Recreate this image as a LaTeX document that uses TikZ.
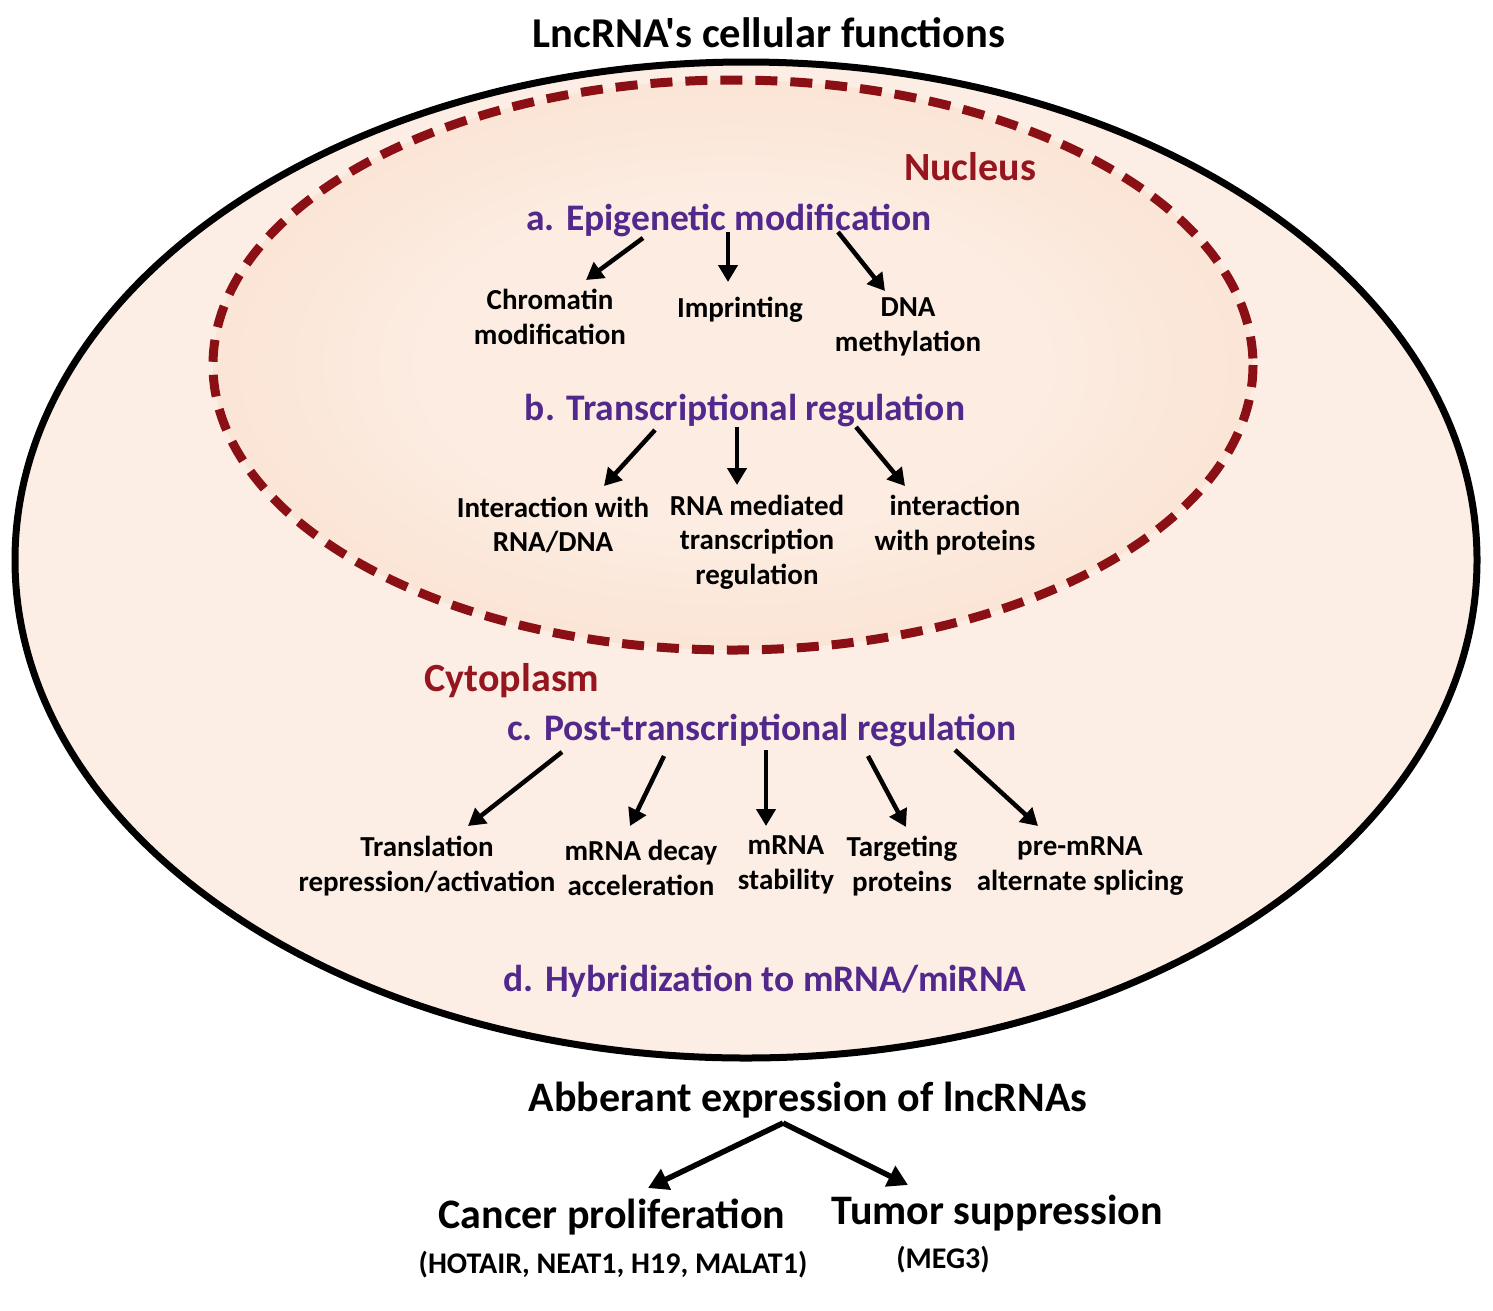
\documentclass[tikz,border=0pt]{standalone}
\usepackage{fontspec}
\setmainfont{Carlito}
\newfontfamily\carlplain{Carlito}
\usetikzlibrary{arrows.meta}
\definecolor{nucred}{RGB}{138,16,22}
\definecolor{labred}{RGB}{150,22,32}
\definecolor{purp}{RGB}{82,40,140}
\definecolor{cyto}{RGB}{252,238,228}
\definecolor{nucin}{RGB}{252,236,225}
\definecolor{nucout}{RGB}{247,210,185}
\pgfdeclareradialshading{nucsh}{\pgfpoint{0bp}{0bp}}{color(0bp)=(nucin); color(15bp)=(nucin); color(50bp)=(nucout); color(72bp)=(nucout)}
\begin{document}
\begin{tikzpicture}[x=1pt,y=-1pt,
  heading/.style={font=\bfseries\fontsize{37.5}{44}\selectfont, text=purp, inner sep=0pt},
  comp/.style={font=\bfseries\fontsize{40}{46}\selectfont, text=labred, inner sep=0pt},
  lab/.style={font=\bfseries\fontsize{29}{34.5}\selectfont, align=center, inner sep=0pt},
  big/.style={font=\bfseries\fontsize{42}{48}\selectfont, inner sep=0pt},
  small/.style={font=\bfseries\fontsize{30}{34}\selectfont, inner sep=0pt},
  arr/.style={line width=4.5pt, -{Triangle[length=17pt,width=19pt]}},
  barr/.style={line width=5.5pt, -{Triangle[length=20pt,width=22pt]}}]
\useasboundingbox (0,0) rectangle (1493,1310);
\fill[white] (0,0) rectangle (1493,1310);
% cell
\draw[line width=7pt, fill=cyto] (746,560) ellipse [x radius=731, y radius=498];
% nucleus
\shade[shading=nucsh] (733,365) ellipse [x radius=520, y radius=285];
\draw[nucred, line width=9pt, dash pattern=on 22pt off 13pt] (733,365) ellipse [x radius=520, y radius=285];

\node[big, font=\carlplain\bfseries\fontsize{42.5}{48}\selectfont] (title) at (769,33) {LncRNA's cellular functions};
\node[comp] (nuc) at (970,167) {Nucleus};
\node[comp] (cyt) at (512,681) {Cytoplasm};

% a
\node[heading] (epi) at (729,220) {a. Epigenetic modification};
\node[lab] (chrom) at (550,317) {Chromatin\\modification};
\node[lab] (impr) at (740,310) {Imprinting};
\node[lab] (dna) at (908,327) {DNA\\methylation};
\coordinate (a1s) at (643,238); \coordinate (a1e) at (586,280);
\coordinate (a2s) at (728,232); \coordinate (a2e) at (728,282);
\coordinate (a3s) at (838,232); \coordinate (a3e) at (885,291);
\draw[arr] (a1s) -- (a1e);
\draw[arr] (a2s) -- (a2e);
\draw[arr] (a3s) -- (a3e);

% b
\node[heading] (trans) at (745,410) {b. Transcriptional regulation};
\node[lab] (inter) at (553,525) {Interaction with\\RNA/DNA};
\node[lab] (rnamed) at (757,542) {RNA mediated\\transcription\\regulation};
\node[lab] (prot) at (955,525) {interaction\\with proteins};
\coordinate (b1s) at (655,430); \coordinate (b1e) at (604,486);
\coordinate (b2s) at (737,427); \coordinate (b2e) at (737,485);
\coordinate (b3s) at (856,427); \coordinate (b3e) at (905,486);
\draw[arr] (b1s) -- (b1e);
\draw[arr] (b2s) -- (b2e);
\draw[arr] (b3s) -- (b3e);

% c
\node[heading] (post) at (762,730) {c. Post-transcriptional regulation};
\node[lab] (c1) at (427,866) {Translation\\repression/activation};
\node[lab] (c2) at (641,868) {mRNA decay\\acceleration};
\node[lab] (c3) at (786,865) {mRNA\\stability};
\node[lab] (c4) at (902,866) {Targeting\\proteins};
\node[lab] (c5) at (1080,866) {pre-mRNA\\alternate splicing};
\coordinate (c1s) at (562,752); \coordinate (c1e) at (468,826);
\coordinate (c2s) at (664,756); \coordinate (c2e) at (630,826);
\coordinate (c3s) at (766,750); \coordinate (c3e) at (766,826);
\coordinate (c4s) at (868,756); \coordinate (c4e) at (906,827);
\coordinate (c5s) at (955,750); \coordinate (c5e) at (1038,826);
\draw[arr] (c1s) -- (c1e);
\draw[arr] (c2s) -- (c2e);
\draw[arr] (c3s) -- (c3e);
\draw[arr] (c4s) -- (c4e);
\draw[arr] (c5s) -- (c5e);

% d
\node[heading] (hyb) at (765,981) {d. Hybridization to mRNA/miRNA};

% bottom
\node[big] (abb) at (808,1100) {Abberant expression of lncRNAs};
\node[big] (canc) at (612,1217) {Cancer proliferation};
\node[big] (tum) at (997,1213) {Tumor suppression};
\node[small] (cancl) at (613,1265) {(HOTAIR, NEAT1, H19, MALAT1)};
\node[small] (tuml) at (943,1260) {(MEG3)};
\coordinate (top) at (783,1123);
\coordinate (le) at (648,1188);
\coordinate (re) at (908,1185);
\draw[barr] (top) -- (le);
\draw[barr] (top) -- (re);
\end{tikzpicture}
\end{document}
